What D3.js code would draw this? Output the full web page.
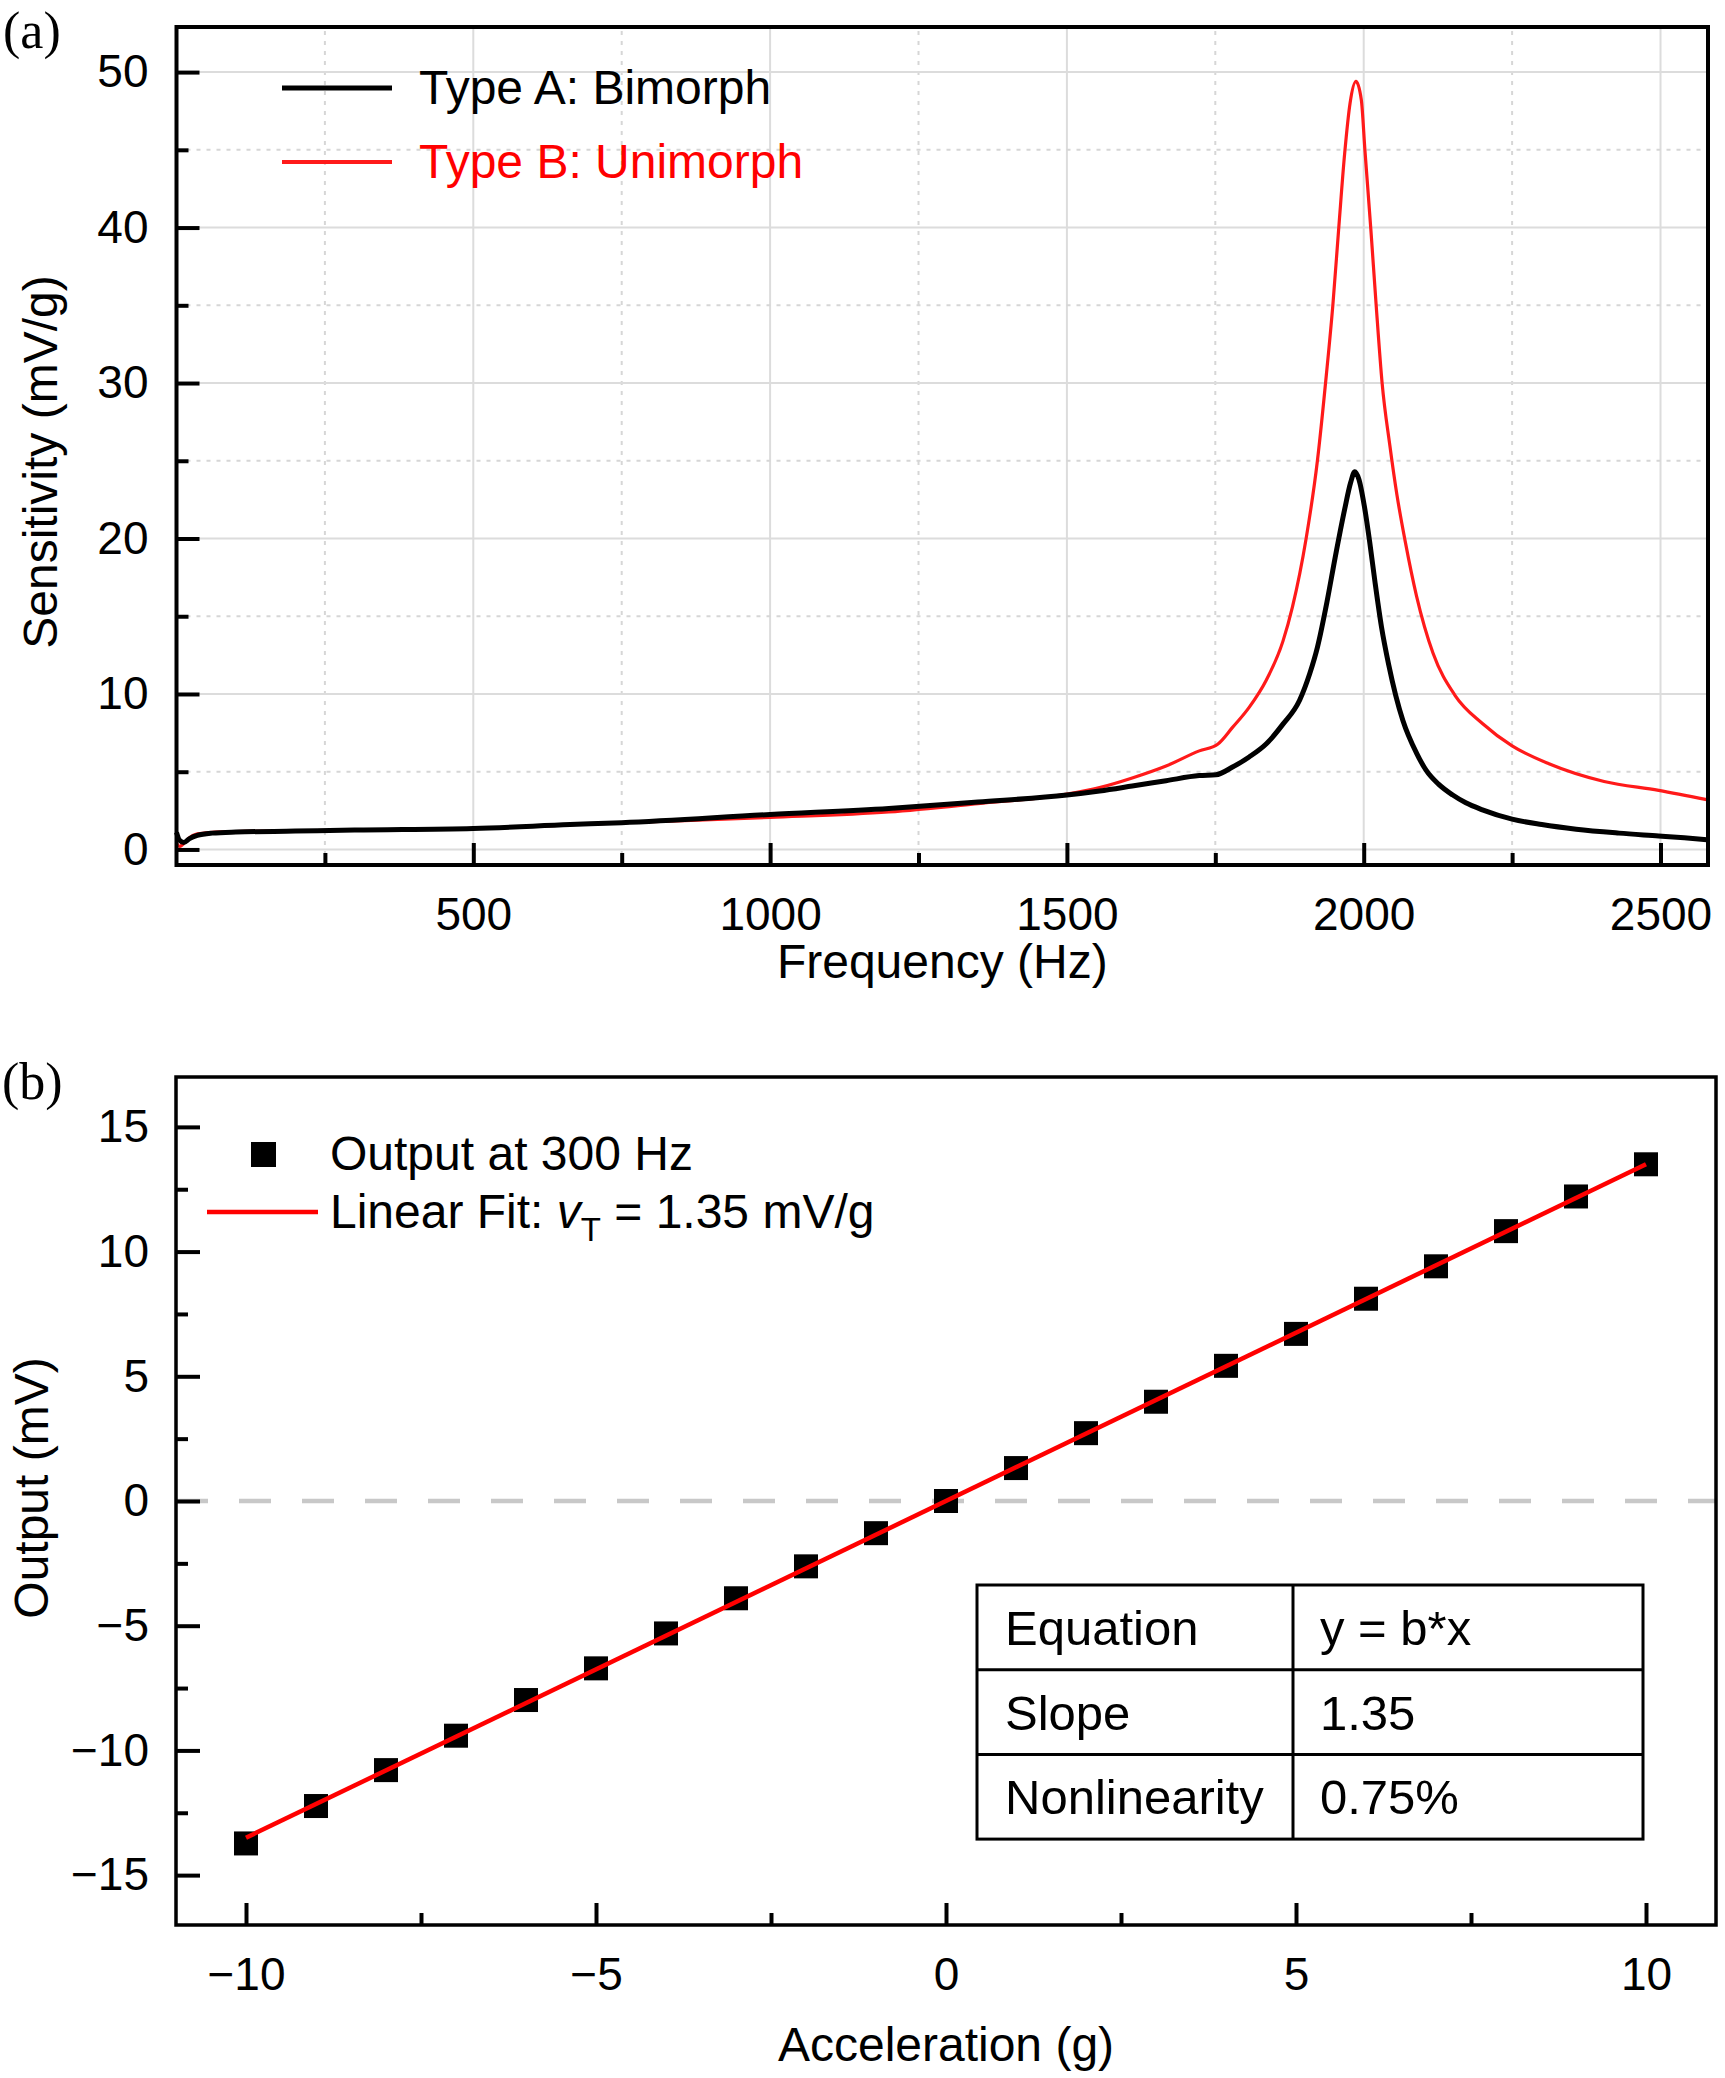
<!DOCTYPE html>
<html>
<head>
<meta charset="utf-8">
<script src="https://cdn.jsdelivr.net/npm/d3@7"></script>
<style>
  body { margin: 0; background: #fff; }
  text { font-family: "Liberation Sans", Arial, sans-serif; }
</style>
</head>
<body>
<svg id="fig"></svg>
<script>
const WIDTH = 1725;
const HEIGHT = 2078;

// panel (a): frequency response
const FREQ_A = [0, 5, 12, 22, 35, 60, 100, 200, 300, 500, 663, 750, 1000, 1200, 1350, 1500, 1555, 1610, 1667, 1723, 1751, 1779, 1807, 1836, 1864, 1892, 1909, 1922, 1938, 1952, 1968, 1978, 1985, 1992, 2001, 2010, 2019, 2030, 2042, 2054, 2066, 2089, 2105, 2126, 2150, 2172, 2200, 2250, 2300, 2358, 2430, 2497, 2540, 2578];
const BIMORPH = [1.1, 0.6, 0.45, 0.7, 0.9, 1.05, 1.12, 1.18, 1.25, 1.35, 1.6, 1.72, 2.25, 2.64, 3.05, 3.5, 3.76, 4.08, 4.42, 4.75, 4.8, 5.3, 5.95, 6.8, 8.06, 9.6, 11.3, 13.0, 15.9, 18.8, 21.9, 23.6, 24.3, 23.8, 22.1, 19.8, 17.2, 14.3, 11.9, 9.9, 8.3, 6.2, 5.1, 4.2, 3.5, 3.0, 2.55, 1.95, 1.6, 1.3, 1.05, 0.87, 0.75, 0.62];
const FREQ_B = [0, 5, 10, 20, 35, 60, 100, 200, 300, 500, 750, 1000, 1200, 1350, 1500, 1555, 1610, 1667, 1723, 1754, 1779, 1807, 1836, 1864, 1880, 1903, 1922, 1937, 1948, 1958, 1968, 1977, 1987, 1996, 2002, 2012, 2021, 2031, 2044, 2056, 2070, 2089, 2117, 2154, 2200, 2250, 2312, 2405, 2497, 2578];
const UNIMORPH = [0.4, 0.2, 0.3, 0.7, 1.0, 1.1, 1.15, 1.2, 1.25, 1.35, 1.72, 2.06, 2.41, 2.95, 3.56, 3.98, 4.6, 5.37, 6.34, 6.77, 7.85, 9.14, 10.9, 13.4, 15.6, 20.0, 25.0, 30.5, 35.0, 40.0, 44.8, 48.0, 49.4, 48.2, 45.0, 39.9, 35.0, 30.0, 26.0, 22.8, 19.8, 16.3, 12.6, 9.9, 8.1, 6.66, 5.51, 4.37, 3.8, 3.2];
const SERIES_A = ["Type A: Bimorph", "Type B: Unimorph"];
const FREQ_MAJOR = [500, 1000, 1500, 2000, 2500];
const FREQ_MINOR = [250, 750, 1250, 1750, 2250];
const SENS_MAJOR = [0, 10, 20, 30, 40, 50];
const SENS_MINOR = [5, 15, 25, 35, 45];

// panel (b): linearity
const ACCEL = [-10, -9, -8, -7, -6, -5, -4, -3, -2, -1, 0, 1, 2, 3, 4, 5, 6, 7, 8, 9, 10];
const OUTPUT = [-13.73, -12.23, -10.79, -9.41, -7.98, -6.71, -5.31, -3.9, -2.62, -1.29, 0.0, 1.32, 2.72, 3.98, 5.42, 6.7, 8.11, 9.41, 10.82, 12.21, 13.5];
const FIT_X = [-10, 10];
const FIT_Y = [-13.5, 13.5];
const ACC_MAJOR = [-10, -5, 0, 5, 10];
const ACC_MINOR = [-7.5, -2.5, 2.5, 7.5];
const OUT_MAJOR = [-15, -10, -5, 0, 5, 10, 15];
const OUT_MINOR = [-12.5, -7.5, -2.5, 2.5, 7.5, 12.5];
const TABLE_ROWS = [["Equation", "y = b*x"], ["Slope", "1.35"], ["Nonlinearity", "0.75%"]];

const RED = "#ff1a1a";
const TICK_FONT = 46;
const LABEL_FONT = 48;
const TABLE_FONT = 49;

const svg = d3.select("#fig").attr("width", WIDTH).attr("height", HEIGHT);

const styleAxis = (g) => {
  g.select(".domain").remove();
  g.selectAll(".tick line").attr("stroke", "#000").attr("stroke-width", 4);
  g.selectAll(".tick text").attr("font-size", TICK_FONT).attr("fill", "#000").attr("font-family", "Liberation Sans, Arial, sans-serif");
};

// ---------- panel (a) ----------
const xA = d3.scaleLinear().domain([0, 2580]).range([176.5, 1708]);
const yA = d3.scaleLinear().domain([-1.0, 52.9]).range([865, 27]);

const gridA = svg.append("g");
gridA.selectAll(".vmaj").data(FREQ_MAJOR).join("line")
  .attr("x1", (d) => xA(d)).attr("x2", (d) => xA(d))
  .attr("y1", yA.range()[0]).attr("y2", yA.range()[1])
  .attr("stroke", "#dcdcdc").attr("stroke-width", 2);
gridA.selectAll(".vmin").data(FREQ_MINOR).join("line")
  .attr("x1", (d) => xA(d)).attr("x2", (d) => xA(d))
  .attr("y1", yA.range()[0]).attr("y2", yA.range()[1])
  .attr("stroke", "#d6d6d6").attr("stroke-width", 2).attr("stroke-dasharray", "4,6");
gridA.selectAll(".hmaj").data(SENS_MAJOR).join("line")
  .attr("x1", xA.range()[0]).attr("x2", xA.range()[1])
  .attr("y1", (d) => yA(d)).attr("y2", (d) => yA(d))
  .attr("stroke", "#dcdcdc").attr("stroke-width", 2);
gridA.selectAll(".hmin").data(SENS_MINOR).join("line")
  .attr("x1", xA.range()[0]).attr("x2", xA.range()[1])
  .attr("y1", (d) => yA(d)).attr("y2", (d) => yA(d))
  .attr("stroke", "#d6d6d6").attr("stroke-width", 2).attr("stroke-dasharray", "4,6");

const lineA = d3.line().x((d) => xA(d[0])).y((d) => yA(d[1])).curve(d3.curveMonotoneX);
svg.append("path")
  .datum(FREQ_B.map((f, i) => [f, UNIMORPH[i]]))
  .attr("d", lineA).attr("fill", "none").attr("stroke", RED).attr("stroke-width", 3.2);
svg.append("path")
  .datum(FREQ_A.map((f, i) => [f, BIMORPH[i]]))
  .attr("d", lineA).attr("fill", "none").attr("stroke", "#000").attr("stroke-width", 5);

svg.append("g").attr("transform", `translate(0, ${yA.range()[0]})`)
  .call(d3.axisBottom(xA).tickValues(FREQ_MAJOR).tickFormat(d3.format("d")).tickSize(-22).tickPadding(32))
  .call(styleAxis);
svg.append("g").attr("transform", `translate(0, ${yA.range()[0]})`)
  .call(d3.axisBottom(xA).tickValues(FREQ_MINOR).tickSize(-12).tickFormat(""))
  .call(styleAxis);
svg.append("g").attr("transform", `translate(${xA.range()[0]}, 0)`)
  .call(d3.axisLeft(yA).tickValues(SENS_MAJOR).tickSize(-23).tickPadding(28))
  .call(styleAxis);
svg.append("g").attr("transform", `translate(${xA.range()[0]}, 0)`)
  .call(d3.axisLeft(yA).tickValues(SENS_MINOR).tickSize(-12).tickFormat(""))
  .call(styleAxis);

svg.append("rect")
  .attr("x", xA.range()[0]).attr("y", yA.range()[1])
  .attr("width", xA.range()[1] - xA.range()[0]).attr("height", yA.range()[0] - yA.range()[1])
  .attr("fill", "none").attr("stroke", "#000").attr("stroke-width", 4);

const legA = svg.append("g").selectAll("g").data(SERIES_A).join("g")
  .attr("transform", (d, i) => `translate(0, ${88 + i * 74})`);
legA.append("line").attr("x1", 282).attr("x2", 392)
  .attr("stroke", (d, i) => (i === 0 ? "#000" : RED)).attr("stroke-width", (d, i) => (i === 0 ? 5 : 4));
legA.append("text").attr("x", 419).attr("y", 16).attr("font-size", LABEL_FONT)
  .attr("fill", (d, i) => (i === 0 ? "#000" : "#ff0000")).text((d) => d);

svg.append("text").attr("transform", "translate(57, 462) rotate(-90)")
  .attr("text-anchor", "middle").attr("font-size", LABEL_FONT).text("Sensitivity (mV/g)");
svg.append("text").attr("x", (xA.range()[0] + xA.range()[1]) / 2).attr("y", 978)
  .attr("text-anchor", "middle").attr("font-size", LABEL_FONT).text("Frequency (Hz)");
svg.append("text").attr("x", 3).attr("y", 48).attr("font-size", 52)
  .style("font-family", "Liberation Serif, Times New Roman, serif").text("(a)");

// ---------- panel (b) ----------
const xB = d3.scaleLinear().domain([-11, 11]).range([176, 1716]);
const yB = d3.scaleLinear().domain([-17, 17]).range([1925, 1077]);

svg.append("line")
  .attr("x1", xB.range()[0]).attr("x2", xB.range()[1])
  .attr("y1", yB(0)).attr("y2", yB(0))
  .attr("stroke", "#c8c8c8").attr("stroke-width", 4.5).attr("stroke-dasharray", "32,31");

const SQ = 24;
svg.append("g").selectAll("rect").data(ACCEL).join("rect")
  .attr("x", (d) => xB(d) - SQ / 2)
  .attr("y", (d, i) => yB(OUTPUT[i]) - SQ / 2)
  .attr("width", SQ).attr("height", SQ).attr("fill", "#000");

svg.append("line")
  .attr("x1", xB(FIT_X[0])).attr("y1", yB(FIT_Y[0]))
  .attr("x2", xB(FIT_X[1])).attr("y2", yB(FIT_Y[1]))
  .attr("stroke", "#ff0000").attr("stroke-width", 4.5);

svg.append("g").attr("transform", `translate(0, ${yB.range()[0]})`)
  .call(d3.axisBottom(xB).tickValues(ACC_MAJOR).tickSize(-22).tickPadding(32))
  .call(styleAxis);
svg.append("g").attr("transform", `translate(0, ${yB.range()[0]})`)
  .call(d3.axisBottom(xB).tickValues(ACC_MINOR).tickSize(-12).tickFormat(""))
  .call(styleAxis);
svg.append("g").attr("transform", `translate(${xB.range()[0]}, 0)`)
  .call(d3.axisLeft(yB).tickValues(OUT_MAJOR).tickSize(-24).tickPadding(27))
  .call(styleAxis);
svg.append("g").attr("transform", `translate(${xB.range()[0]}, 0)`)
  .call(d3.axisLeft(yB).tickValues(OUT_MINOR).tickSize(-12).tickFormat(""))
  .call(styleAxis);

svg.append("rect")
  .attr("x", xB.range()[0]).attr("y", yB.range()[1])
  .attr("width", xB.range()[1] - xB.range()[0]).attr("height", yB.range()[0] - yB.range()[1])
  .attr("fill", "none").attr("stroke", "#000").attr("stroke-width", 3.5);

// legend (b)
svg.append("rect").attr("x", 251).attr("y", 1142).attr("width", 25).attr("height", 25).attr("fill", "#000");
svg.append("text").attr("x", 330).attr("y", 1170).attr("font-size", LABEL_FONT).text("Output at 300 Hz");
svg.append("line").attr("x1", 207).attr("x2", 318).attr("y1", 1212).attr("y2", 1212)
  .attr("stroke", "#ff0000").attr("stroke-width", 4.5);
const fitLabel = svg.append("text").attr("x", 330).attr("y", 1228).attr("font-size", LABEL_FONT);
fitLabel.append("tspan").text("Linear Fit: ");
fitLabel.append("tspan").attr("font-style", "italic").text("v");
fitLabel.append("tspan").attr("font-size", 33).attr("dy", 13).text("T");
fitLabel.append("tspan").attr("dy", -13).text(" = 1.35 mV/g");

// fit table
const tbl = { left: 977, mid: 1293, right: 1643, top: 1585, rowH: 84.7 };
const table = svg.append("g");
table.append("rect").attr("x", tbl.left).attr("y", tbl.top)
  .attr("width", tbl.right - tbl.left).attr("height", tbl.rowH * TABLE_ROWS.length)
  .attr("fill", "#fff").attr("stroke", "#000").attr("stroke-width", 3);
table.append("line").attr("x1", tbl.mid).attr("x2", tbl.mid)
  .attr("y1", tbl.top).attr("y2", tbl.top + tbl.rowH * TABLE_ROWS.length)
  .attr("stroke", "#000").attr("stroke-width", 3);
table.selectAll(".rowline").data(TABLE_ROWS.slice(1)).join("line")
  .attr("x1", tbl.left).attr("x2", tbl.right)
  .attr("y1", (d, i) => tbl.top + (i + 1) * tbl.rowH).attr("y2", (d, i) => tbl.top + (i + 1) * tbl.rowH)
  .attr("stroke", "#000").attr("stroke-width", 3);
table.selectAll(".k").data(TABLE_ROWS).join("text")
  .attr("x", tbl.left + 28).attr("y", (d, i) => tbl.top + i * tbl.rowH + 60)
  .attr("font-size", TABLE_FONT).text((d) => d[0]);
table.selectAll(".v").data(TABLE_ROWS).join("text")
  .attr("x", tbl.mid + 27).attr("y", (d, i) => tbl.top + i * tbl.rowH + 60)
  .attr("font-size", TABLE_FONT).text((d) => d[1]);

svg.append("text").attr("transform", "translate(48, 1488) rotate(-90)")
  .attr("text-anchor", "middle").attr("font-size", LABEL_FONT).text("Output (mV)");
svg.append("text").attr("x", (xB.range()[0] + xB.range()[1]) / 2).attr("y", 2061)
  .attr("text-anchor", "middle").attr("font-size", LABEL_FONT).text("Acceleration (g)");
svg.append("text").attr("x", 2).attr("y", 1099).attr("font-size", 52)
  .style("font-family", "Liberation Serif, Times New Roman, serif").text("(b)");
</script>
</body>
</html>
